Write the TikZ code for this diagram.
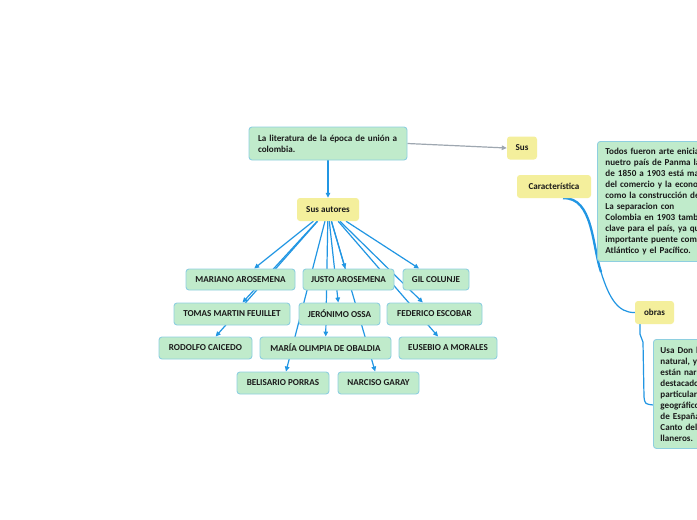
\documentclass[tikz,border=0pt]{standalone}
\usepackage{fontspec}
\setmainfont{Carlito}
\usetikzlibrary{arrows.meta,backgrounds}
\definecolor{gfill}{HTML}{C0EBCB}
\definecolor{gborder}{HTML}{8ECFE0}
\definecolor{yfill}{HTML}{F4EF9C}
\definecolor{connc}{HTML}{2196E3}
\definecolor{grayc}{HTML}{9EA7B0}
\definecolor{txt}{HTML}{1A1A1A}
\tikzset{
  gbox/.style={draw=gborder, fill=gfill, rounded corners=3pt, line width=0.9pt,
    font=\bfseries\fontsize{9.1}{11}\selectfont, inner sep=0pt, text=txt},
  ybox/.style={fill=yfill, rounded corners=3pt, inner sep=0pt, minimum height=23pt,
    font=\bfseries\fontsize{9.1}{11}\selectfont, text=txt},
  conn/.style={draw=connc, line width=1.2pt, -{Triangle[length=5pt,width=4.5pt]}},
  curveconn/.style={draw=connc, line width=1.2pt},
  grayconn/.style={draw=grayc, line width=1.2pt, -{Triangle[length=5pt,width=4.5pt]}},
}
\begin{document}
\begin{tikzpicture}[x=1pt,y=-1pt]
\useasboundingbox (0,0) rectangle (697,520);

\node[gbox, align=left, text width=140pt, inner xsep=9pt, minimum height=33pt] (title) at (328,143.5)
  {La literatura de la época de unión a\\colombia.};
\node[ybox, minimum width=30pt] (sus) at (522,148) {Sus};
\node[ybox, minimum width=62pt] (sa) at (328,209.5) {Sus autores};
\node[ybox, minimum width=74pt] (car) at (554,186.5) {Característica};
\node[gbox, anchor=north west, align=left, text width=125pt, inner xsep=8pt, minimum height=120pt] (g1) at (597,141)
  {Todos fueron arte eniciados\\nuetro país de Panma la\\de 1850 a 1903 está marcado\\del comercio y la economía,\\como la construcción del\\La separacion con\\Colombia en 1903 también fue\\clave para el país, ya que es\\importante puente comercial\\Atlántico y el Pacífico.};
\node[ybox, minimum width=39pt] (obras) at (654.5,312.5) {obras};
\node[gbox, anchor=north west, align=left, text width=110pt, inner xsep=7pt, minimum height=109pt] (g2) at (653,339)
  {Usa Don la\\natural, y sus\\están narrados\\destacados\\particulares\\geográficos\\de España.\\Canto del\\llaneros.};

\node[gbox, minimum width=109pt, minimum height=21pt] (mariano) at (240.5,279.5) {MARIANO AROSEMENA};
\node[gbox, minimum width=91pt, minimum height=21pt] (justo) at (348.5,279.5) {JUSTO AROSEMENA};
\node[gbox, minimum width=66pt, minimum height=21pt] (gil) at (436,279.5) {GIL COLUNJE};
\node[gbox, minimum width=116pt, minimum height=22pt] (tomas) at (232,314) {TOMAS MARTIN FEUILLET};
\node[gbox, minimum width=81pt, minimum height=22pt] (jeronimo) at (339.5,314) {JERÓNIMO OSSA};
\node[gbox, minimum width=95pt, minimum height=22pt] (federico) at (434.5,314) {FEDERICO ESCOBAR};
\node[gbox, minimum width=93pt, minimum height=22pt] (rodolfo) at (205.5,348) {RODOLFO CAICEDO};
\node[gbox, minimum width=131pt, minimum height=22pt] (maria) at (325.5,348) {MARÍA OLIMPIA DE OBALDIA};
\node[gbox, minimum width=98pt, minimum height=22pt] (eusebio) at (448,348) {EUSEBIO A MORALES};
\node[gbox, minimum width=92pt, minimum height=22pt] (belisario) at (283,383) {BELISARIO PORRAS};
\node[gbox, minimum width=81pt, minimum height=22pt] (narciso) at (378.5,383) {NARCISO GARAY};

\coordinate (cmid) at (601,272);

\begin{pgfonlayer}{background}
\fill[white] (0,0) rectangle (697,520);
\draw[grayconn] (title.east) -- (sus.west);
\draw[conn] (title.south) -- (sa.north);
\foreach \c in {mariano,justo,gil,tomas,jeronimo,federico,rodolfo,maria,eusebio,belisario,narciso}
  \draw[conn] (sa) -- (\c);
\draw[curveconn, line width=2.3pt] ([xshift=9pt]car.south) .. controls (593,197) and (592,245) .. (cmid);
\draw[curveconn] (cmid) .. controls (609,298) and (618,313) .. (obras.west);
\draw[curveconn] ([xshift=-14.5pt]obras.south) -- ++(0,10) .. controls +(0,3) and +(0,-3) .. ++(3,8)
  -- (644,397) .. controls (645,404) .. ([yshift=-11pt]g2.west);
\end{pgfonlayer}
\end{tikzpicture}
\end{document}
